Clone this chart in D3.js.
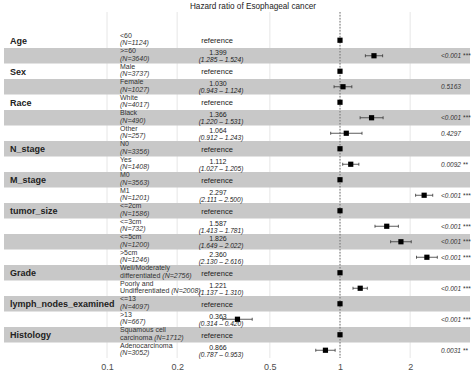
<!DOCTYPE html>
<html>
<head>
<meta charset="utf-8">
<script src="https://cdn.jsdelivr.net/npm/d3@7"></script>
<style>
  body { margin: 0; background: #ffffff; }
  svg { font-family: "Liberation Sans", Arial, sans-serif; }
</style>
</head>
<body>
<svg id="chart"></svg>
<script>
// variable headers and the row they sit on
const variables = ['Age', 'Sex', 'Race', 'N_stage', 'M_stage', 'tumor_size', 'Grade', 'lymph_nodes_examined', 'Histology'];
const variableRows = [0, 2, 4, 7, 9, 11, 15, 17, 19];

// one entry per level row
const levelNames = ['<60', '>=60', 'Male', 'Female', 'White', 'Black', 'Other', 'N0', 'Yes', 'M0', 'M1',
  '<=2cm', '<=3cm', '<=5cm', '>5cm', 'Well/Moderately', 'Poorly and', '<=13', '>13', 'Squamous cell', 'Adenocarcinoma'];
const levelSecond = ['', '', '', '', '', '', '', '', '', '', '', '', '', '', '',
  'differentiated', 'Undifferentiated', '', '', 'carcinoma', ''];
const counts = [1124, 3640, 3737, 1027, 4017, 490, 257, 3356, 1408, 3563, 1201,
  1586, 732, 1200, 1246, 2756, 2008, 4097, 667, 1712, 3052];
const hr = [1, 1.399, 1, 1.030, 1, 1.366, 1.064, 1, 1.112, 1, 2.297,
  1, 1.587, 1.826, 2.360, 1, 1.221, 1, 0.363, 1, 0.866];
const lower = [null, 1.285, null, 0.943, null, 1.220, 0.912, null, 1.027, null, 2.111,
  null, 1.413, 1.649, 2.130, null, 1.137, null, 0.314, null, 0.787];
const upper = [null, 1.524, null, 1.124, null, 1.531, 1.243, null, 1.205, null, 2.500,
  null, 1.781, 2.022, 2.616, null, 1.310, null, 0.420, null, 0.953];
const pvals = [null, '<0.001 ***', null, '0.5163', null, '<0.001 ***', '0.4297', null, '0.0092 **', null, '<0.001 ***',
  null, '<0.001 ***', '<0.001 ***', '<0.001 ***', null, '<0.001 ***', null, '<0.001 ***', null, '0.0031 **'];
const tickValues = [0.1, 0.2, 0.5, 1, 2];

const svgArea = { width: 474, height: 378 };
const svg = d3.select('#chart')
  .attr('width', svgArea.width)
  .attr('height', svgArea.height);

const x = d3.scaleLog().domain([0.1, 1]).range([107, 340]);
const y = d3.scaleBand().domain(d3.range(levelNames.length)).range([32.5, 358]);
const rowH = y.bandwidth();
const cy = i => y(i) + rowH / 2;
const fmt = d3.format('.3f');

const gridTop = 12;
const gridBottom = 358;

// grid
svg.append('g')
  .selectAll('line')
  .data(tickValues)
  .enter().append('line')
  .attr('x1', d => x(d))
  .attr('x2', d => x(d))
  .attr('y1', gridTop)
  .attr('y2', gridBottom)
  .style('stroke', '#e6e6e6')
  .style('stroke-width', 1);

// alternating bands
svg.append('g')
  .selectAll('rect')
  .data(d3.range(levelNames.length).filter(i => i % 2 === 1))
  .enter().append('rect')
  .attr('x', 4)
  .attr('y', d => y(d))
  .attr('width', 466)
  .attr('height', rowH)
  .style('fill', '#c8c8c8');

// reference line at 1
svg.append('line')
  .attr('x1', x(1))
  .attr('x2', x(1))
  .attr('y1', gridTop)
  .attr('y2', gridBottom)
  .style('stroke', '#555555')
  .style('stroke-width', 0.8)
  .style('stroke-dasharray', '1.5,1.5');

svg.append('text')
  .attr('x', 253)
  .attr('y', 9)
  .style('text-anchor', 'middle')
  .style('font-size', '8.2px')
  .style('fill', '#222222')
  .text('Hazard ratio of Esophageal cancer');

// variable names
svg.append('g')
  .selectAll('text')
  .data(variables)
  .enter().append('text')
  .attr('x', 10)
  .attr('y', (d, i) => cy(variableRows[i]) + 3.5)
  .style('font-size', '9px')
  .style('font-weight', 'bold')
  .style('fill', '#222222')
  .text(d => d);

// level names with counts
const levelG = svg.append('g')
  .style('font-size', '7px')
  .style('fill', '#333333');
levelNames.forEach((name, i) => {
  levelG.append('text')
    .attr('x', 120)
    .attr('y', cy(i) - 2.3)
    .text(name);
  const second = levelG.append('text')
    .attr('x', 120)
    .attr('y', cy(i) + 5.2);
  if (levelSecond[i]) {
    second.append('tspan').text(levelSecond[i] + ' ');
  }
  second.append('tspan')
    .style('font-style', 'italic')
    .text(`(N=${counts[i]})`);
});

// estimate text
const estG = svg.append('g')
  .style('fill', '#222222')
  .style('text-anchor', 'middle');
hr.forEach((d, i) => {
  if (lower[i] === null) {
    estG.append('text')
      .attr('x', 217)
      .attr('y', cy(i) + 2.8)
      .style('font-size', '7.5px')
      .text('reference');
  } else {
    estG.append('text')
      .attr('x', 218)
      .attr('y', cy(i) - 0.3)
      .style('font-size', '7px')
      .text(fmt(d));
    estG.append('text')
      .attr('x', 221)
      .attr('y', cy(i) + 6.6)
      .style('font-size', '6.6px')
      .style('font-style', 'italic')
      .text(`(${fmt(lower[i])} \u2013 ${fmt(upper[i])})`);
  }
});

// error bars
const ciRows = d3.range(hr.length).filter(i => lower[i] !== null);
const ciG = svg.append('g')
  .style('stroke', '#333333')
  .style('stroke-width', 0.8);
ciG.selectAll('line.bar')
  .data(ciRows)
  .enter().append('line')
  .attr('class', 'bar')
  .attr('x1', i => x(lower[i]))
  .attr('x2', i => x(upper[i]))
  .attr('y1', i => cy(i))
  .attr('y2', i => cy(i));
ciG.selectAll('line.capL')
  .data(ciRows)
  .enter().append('line')
  .attr('class', 'capL')
  .attr('x1', i => x(lower[i]))
  .attr('x2', i => x(lower[i]))
  .attr('y1', i => cy(i) - 1.5)
  .attr('y2', i => cy(i) + 1.5);
ciG.selectAll('line.capR')
  .data(ciRows)
  .enter().append('line')
  .attr('class', 'capR')
  .attr('x1', i => x(upper[i]))
  .attr('x2', i => x(upper[i]))
  .attr('y1', i => cy(i) - 1.5)
  .attr('y2', i => cy(i) + 1.5);

// point estimates
svg.append('g')
  .selectAll('rect')
  .data(hr)
  .enter().append('rect')
  .attr('x', d => x(d) - 2.6)
  .attr('y', (d, i) => cy(i) - 2.6)
  .attr('width', 5.2)
  .attr('height', 5.2)
  .style('fill', '#000000');

// p-values
const pRows = d3.range(pvals.length).filter(i => pvals[i] !== null);
svg.append('g')
  .selectAll('text')
  .data(pRows)
  .enter().append('text')
  .attr('x', 441)
  .attr('y', i => cy(i) + 2.3)
  .style('font-size', '6.5px')
  .style('font-style', 'italic')
  .style('fill', '#333333')
  .text(i => pvals[i]);

// axis
const xAxis = g => g
  .attr('transform', `translate(0, ${gridBottom + 3})`)
  .call(d3.axisBottom(x).tickValues(tickValues).tickFormat(d => String(d)).tickSize(0))
  .call(g => g.select('.domain').remove())
  .call(g => g.selectAll('text')
    .attr('dy', '0.71em')
    .style('font-family', '"Liberation Sans", Arial, sans-serif')
    .style('font-size', '9px')
    .style('fill', '#4d4d4d'));
svg.append('g').call(xAxis);
</script>
</body>
</html>
